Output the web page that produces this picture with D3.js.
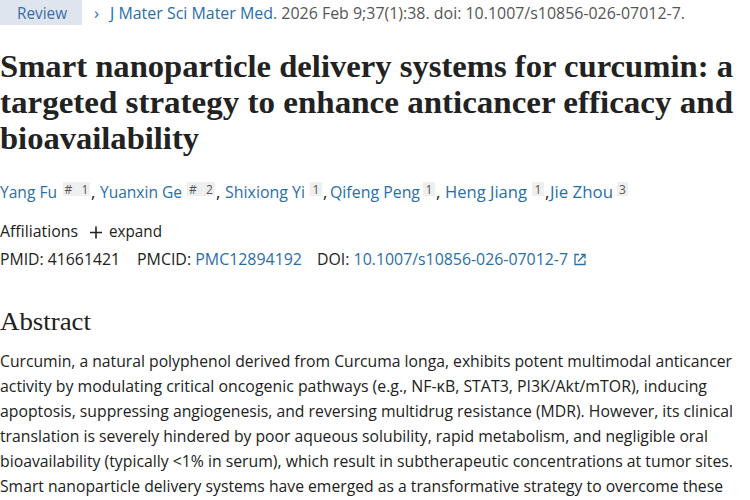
<!DOCTYPE html>
<html>
<head>
<meta charset="utf-8">
<script src="https://cdn.jsdelivr.net/npm/d3@7"></script>
<style>
  body { margin: 0; background: #fff; }
  svg text { font-family: "Open Sans", "Noto Sans", sans-serif; }
</style>
</head>
<body>
<script>
const badge = 'Review';
const journal = 'J Mater Sci Mater Med.';
const citation = ' 2026 Feb 9;37(1):38. doi: 10.1007/s10856-026-07012-7.';
const titleLines = [
  'Smart nanoparticle delivery systems for curcumin: a',
  'targeted strategy to enhance anticancer efficacy and',
  'bioavailability'
];
const authors = ['Yang Fu', 'Yuanxin Ge', 'Shixiong Yi', 'Qifeng Peng', 'Heng Jiang', 'Jie Zhou'];
const authorSups = ['# 1', '# 2', '1', '1', '1', '3'];
const ids = [['PMID: ', '41661421', false], ['PMCID: ', 'PMC12894192', true], ['DOI: ', '10.1007/s10856-026-07012-7', true]];
const abstractLines = [
  'Curcumin, a natural polyphenol derived from Curcuma longa, exhibits potent multimodal anticancer',
  'activity by modulating critical oncogenic pathways (e.g., NF-κB, STAT3, PI3K/Akt/mTOR), inducing',
  'apoptosis, suppressing angiogenesis, and reversing multidrug resistance (MDR). However, its clinical',
  'translation is severely hindered by poor aqueous solubility, rapid metabolism, and negligible oral',
  'bioavailability (typically <1% in serum), which result in subtherapeutic concentrations at tumor sites.',
  'Smart nanoparticle delivery systems have emerged as a transformative strategy to overcome these'
];

// layout (measured off the page)
const titleWidths = [733, 733, 199];
const authorBoxes = [[0, 57, 63, 27], [100, 82, 187, 28], [225, 80, 310, 12], [330, 90, 423, 12], [445, 82, 532, 12], [550, 63, 617, 11]];
const idBoxes = [[0, 120], [137, 165], [317, 251]];
const abstractWidths = [732, 707, 733, 708, 733, 723];

const W = 750, H = 500;
const blue = '#2a6ea8', ink = '#212121';
const svg = d3.select('body').append('svg').attr('width', W).attr('height', H);

const fit = sel => sel.attr('lengthAdjust', 'spacingAndGlyphs');

// badge row
svg.append('rect').attr('x', 0).attr('y', 0).attr('width', 82).attr('height', 25).attr('fill', '#dfe5ee');
svg.append('text').attr('x', 17).attr('y', 19).attr('font-size', 17).attr('fill', '#3a6ca6')
  .attr('textLength', 50).call(fit).text(badge);
svg.append('text').attr('x', 94).attr('y', 19).attr('font-size', 17).attr('fill', blue).text('›');
const cite = svg.append('text').attr('x', 110).attr('y', 19).attr('font-size', 16.5)
  .attr('textLength', 575).call(fit);
cite.append('tspan').attr('fill', blue).text(journal);
cite.append('tspan').attr('fill', '#555').text(citation);

// title
const y = d3.scaleLinear().domain([0, 1]).range([77, 113]);
svg.selectAll('text.title').data(titleLines).join('text')
  .attr('class', 'title')
  .attr('x', 0).attr('y', (d, i) => y(i))
  .attr('textLength', (d, i) => titleWidths[i]).call(fit)
  .style('font-family', '"Liberation Serif", serif')
  .attr('font-weight', 'bold').attr('font-size', 32).attr('fill', '#222')
  .text(d => d);

// authors
const ag = svg.append('g');
authors.forEach((a, i) => {
  const [nx, nw, sx, sw] = authorBoxes[i];
  ag.append('text').attr('x', nx).attr('y', 198).attr('font-size', 17).attr('fill', blue)
    .attr('textLength', nw).call(fit).text(a);
  ag.append('rect').attr('x', sx).attr('y', 182).attr('width', sw).attr('height', 14).attr('fill', '#efefef');
  ag.append('text').attr('x', sx + sw / 2).attr('y', 194).attr('text-anchor', 'middle')
    .attr('font-size', 12).attr('fill', '#555').attr('xml:space', 'preserve')
    .text(authorSups[i].replace(' ', '   '));
  if (i < authors.length - 1) {
    ag.append('text').attr('x', sx + sw + 1).attr('y', 198).attr('font-size', 17).attr('fill', ink).text(',');
  }
});

// affiliations
svg.append('text').attr('x', 0).attr('y', 237).attr('font-size', 17).attr('fill', ink)
  .attr('textLength', 78).call(fit).text('Affiliations');
svg.append('path').attr('d', 'M90,232.5 H102 M96,226.5 V238.5').attr('stroke', ink).attr('stroke-width', 1.6);
svg.append('text').attr('x', 109).attr('y', 237).attr('font-size', 17).attr('fill', ink)
  .attr('textLength', 53).call(fit).text('expand');

// ids
ids.forEach(([lab, val, link], i) => {
  const t = svg.append('text').attr('x', idBoxes[i][0]).attr('y', 265).attr('font-size', 17)
    .attr('textLength', idBoxes[i][1]).call(fit);
  t.append('tspan').attr('fill', ink).text(lab);
  t.append('tspan').attr('fill', link ? blue : ink).text(val);
});
const ix = 575;
svg.append('path').attr('d', `M${ix + 4},${254.5} H${ix} V${264.5} H${ix + 10} V${260.5}`)
  .attr('fill', 'none').attr('stroke', blue).attr('stroke-width', 1.3);
svg.append('path').attr('d', `M${ix + 3},${261.5} L${ix + 10},${254.5} M${ix + 6},${254.5} H${ix + 10} V${258.5}`)
  .attr('fill', 'none').attr('stroke', blue).attr('stroke-width', 1.3);

// abstract
svg.append('text').attr('x', 0).attr('y', 330).style('font-family', '"Liberation Serif", serif')
  .attr('font-size', 25).attr('fill', ink).attr('textLength', 91).call(fit).text('Abstract');
const ly = d3.scaleLinear().domain([0, 1]).range([367, 392]);
svg.selectAll('text.abs').data(abstractLines).join('text')
  .attr('class', 'abs').attr('x', 0).attr('y', (d, i) => ly(i))
  .attr('textLength', (d, i) => abstractWidths[i]).call(fit)
  .attr('font-size', 15.5).attr('fill', ink).text(d => d);
</script>
</body>
</html>
